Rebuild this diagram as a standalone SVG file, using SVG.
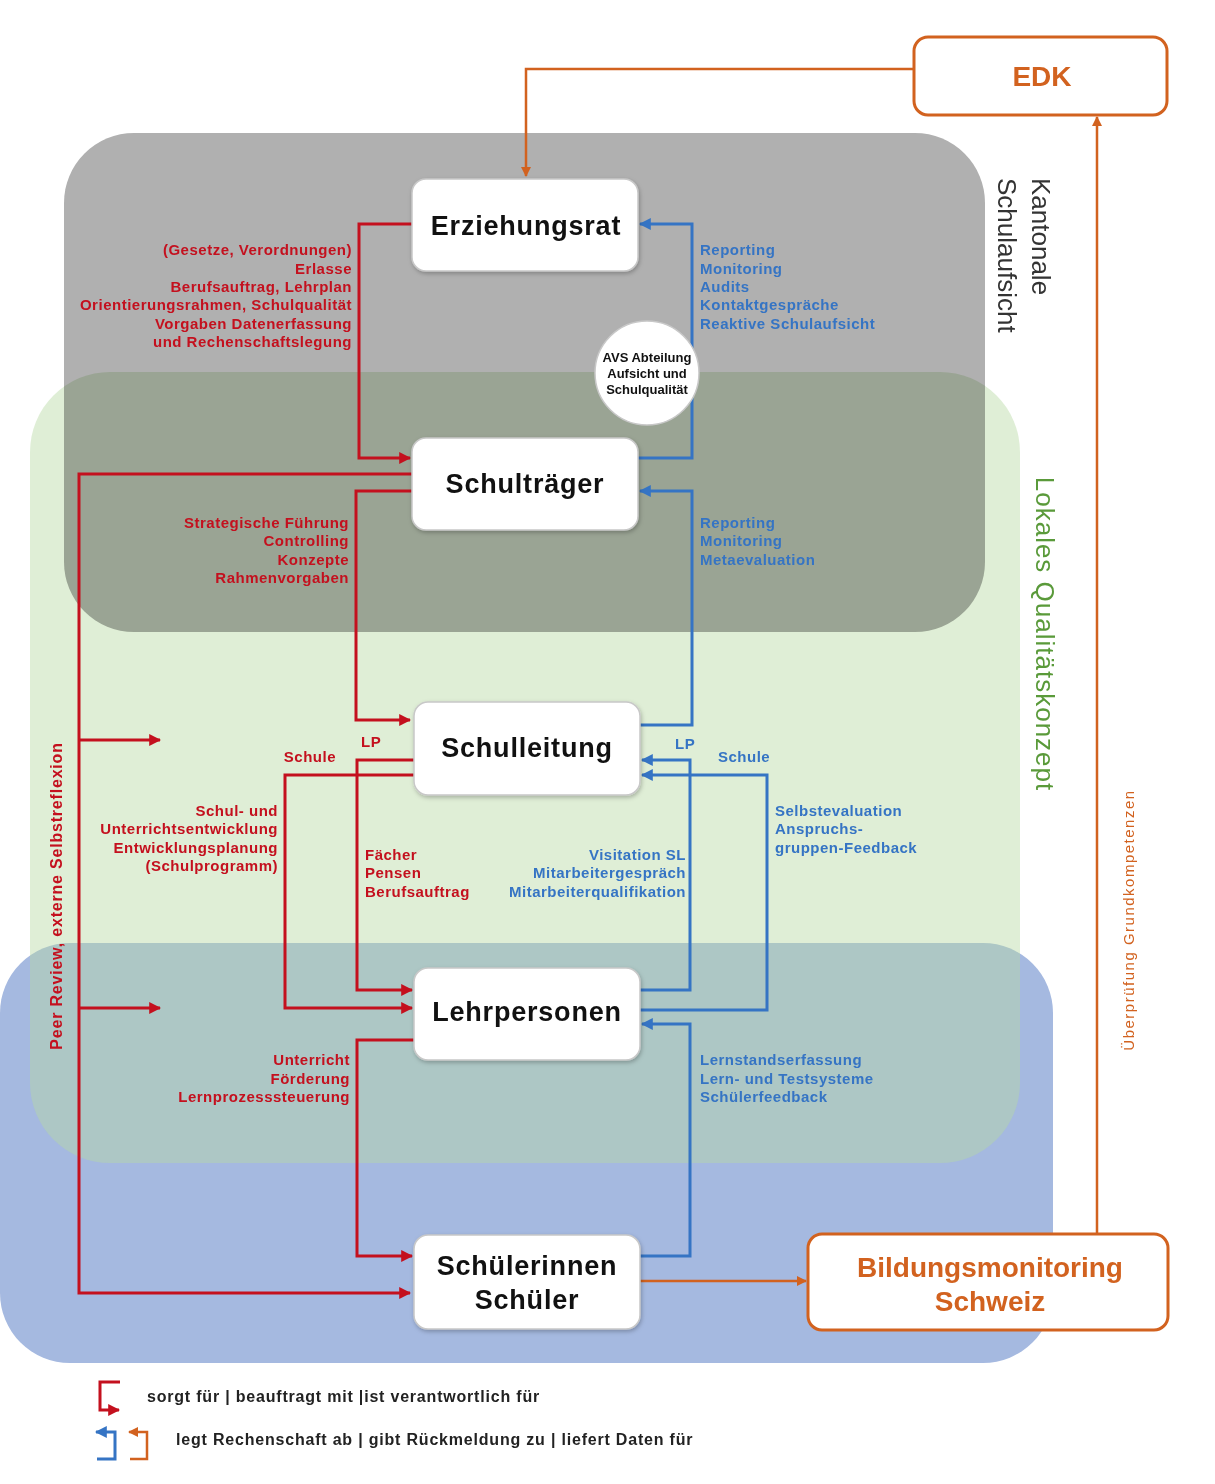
<svg xmlns="http://www.w3.org/2000/svg" width="1215" height="1484" viewBox="0 0 1215 1484">
<style>
.n{fill:#fff;stroke:#c8c8c8;stroke-width:1.5}
.nt{font-family:"Liberation Sans",Arial,sans-serif;font-weight:bold;font-size:27px;letter-spacing:0.8px;fill:#111;text-anchor:middle}
.o{fill:#fff;stroke:#d2621f;stroke-width:3}
.ot{font-family:"Liberation Sans",Arial,sans-serif;font-weight:bold;font-size:28px;fill:#d2621f;text-anchor:middle}
.r{fill:none;stroke:#c4101e;stroke-width:3}
.b{fill:none;stroke:#3574c4;stroke-width:3}
.or{fill:none;stroke:#d2621f;stroke-width:2.5}
.lr{font-family:"Liberation Sans",Arial,sans-serif;font-weight:bold;font-size:15px;letter-spacing:0.5px;fill:#c4101e}
.lb{font-family:"Liberation Sans",Arial,sans-serif;font-weight:bold;font-size:15px;letter-spacing:0.5px;fill:#3574c4}
.e{text-anchor:end}
.lg{font-family:"Liberation Sans",Arial,sans-serif;font-weight:bold;font-size:16px;letter-spacing:0.8px;fill:#222}
</style>
<defs>
<marker id="ar" viewBox="0 0 10 10" refX="9" refY="5" markerWidth="4" markerHeight="4" orient="auto"><path d="M0,0L10,5L0,10z" fill="#c4101e"/></marker>
<marker id="ab" viewBox="0 0 10 10" refX="9" refY="5" markerWidth="4" markerHeight="4" orient="auto"><path d="M0,0L10,5L0,10z" fill="#3574c4"/></marker>
<marker id="ao" viewBox="0 0 10 10" refX="9" refY="5" markerWidth="4" markerHeight="4" orient="auto"><path d="M0,0L10,5L0,10z" fill="#d2621f"/></marker>
<filter id="sh" x="-10%" y="-10%" width="130%" height="130%"><feDropShadow dx="1" dy="2" stdDeviation="2" flood-opacity="0.25"/></filter>
</defs>
<rect width="1215" height="1484" fill="#fff"/>
<g id="zones">
<rect x="0" y="943" width="1053" height="420" rx="70" fill="#a5b9e0"/>
<rect x="30" y="372" width="990" height="791" rx="80" fill="rgb(183,217,163)" fill-opacity="0.444"/>
<rect x="64" y="133" width="921" height="499" rx="70" fill="#b0b0b0" style="mix-blend-mode:multiply"/>
</g>
<g id="zone-labels" font-family="'Liberation Sans',Arial,sans-serif">
<text transform="translate(1032,178) rotate(90)" font-size="26" fill="#333">Kantonale</text>
<text transform="translate(998,178) rotate(90)" font-size="26" fill="#333">Schulaufsicht</text>
<text transform="translate(1036,634) rotate(90)" font-size="26" letter-spacing="1" fill="#5a9a3a" text-anchor="middle">Lokales Qualitätskonzept</text>
<text transform="translate(1134,920) rotate(-90)" font-size="15" letter-spacing="1.5" fill="#d2621f" text-anchor="middle">Überprüfung Grundkompetenzen</text>
<text transform="translate(62,896) rotate(-90)" font-family="'Liberation Sans',Arial,sans-serif" font-weight="bold" font-size="16" letter-spacing="0.8" fill="#c4101e" text-anchor="middle">Peer Review, externe Selbstreflexion</text>
</g>
<g id="connectors">
<path class="r" marker-end="url(#ar)" d="M412,224H359V458H410"/>
<path class="r" marker-end="url(#ar)" d="M412,491H356V720H410"/>
<path class="r" marker-end="url(#ar)" d="M414,760H357V990H412"/>
<path class="r" marker-end="url(#ar)" d="M414,775H285V1008H412"/>
<path class="r" marker-end="url(#ar)" d="M414,1040H357V1256H412"/>
<path class="r" marker-end="url(#ar)" d="M412,474H79V1293H410"/>
<path class="r" marker-end="url(#ar)" d="M79,740H160"/>
<path class="r" marker-end="url(#ar)" d="M79,1008H160"/>
<path class="b" marker-end="url(#ab)" d="M638,458H692V224H640"/>
<path class="b" marker-end="url(#ab)" d="M640,725H692V491H640"/>
<path class="b" marker-end="url(#ab)" d="M640,990H690V760H642"/>
<path class="b" marker-end="url(#ab)" d="M640,1010H767V775H642"/>
<path class="b" marker-end="url(#ab)" d="M640,1256H690V1024H642"/>
<path class="or" marker-end="url(#ao)" d="M914,69H526V176"/>
<path class="or" marker-end="url(#ao)" d="M1097,1234V117"/>
<path class="or" marker-end="url(#ao)" d="M640,1281H806"/>
</g>
<g id="erziehungsrat"><rect class="n" filter="url(#sh)" x="412" y="179" width="226" height="92" rx="14"/><text class="nt" x="526" y="235">Erziehungsrat</text></g>
<g id="schultraeger"><rect class="n" filter="url(#sh)" x="412" y="438" width="226" height="92" rx="14"/><text class="nt" x="525" y="493">Schulträger</text></g>
<g id="schulleitung"><rect class="n" filter="url(#sh)" x="414" y="702" width="226" height="93" rx="14"/><text class="nt" x="527" y="757">Schulleitung</text></g>
<g id="lehrpersonen"><rect class="n" filter="url(#sh)" x="414" y="968" width="226" height="92" rx="14"/><text class="nt" x="527" y="1021">Lehrpersonen</text></g>
<g id="schueler"><rect class="n" filter="url(#sh)" x="414" y="1235" width="226" height="94" rx="14"/><text class="nt" x="527" y="1275">Schülerinnen</text><text class="nt" x="527" y="1309">Schüler</text></g>
<g id="edk"><rect class="o" x="914" y="37" width="253" height="78" rx="14"/><text class="ot" x="1042" y="86">EDK</text></g>
<g id="bildungsmonitoring"><rect class="o" x="808" y="1234" width="360" height="96" rx="14"/><text class="ot" x="990" y="1277">Bildungsmonitoring</text><text class="ot" x="990" y="1311">Schweiz</text></g>
<g id="avs"><circle cx="647" cy="373" r="52" fill="#fff" stroke="#c8c8c8" stroke-width="1.5"/>
<g font-family="'Liberation Sans',Arial,sans-serif" font-weight="bold" font-size="13" fill="#111" text-anchor="middle"><text x="647" y="362">AVS Abteilung</text><text x="647" y="378">Aufsicht und</text><text x="647" y="394">Schulqualität</text></g></g>
<g id="labels">
<text class="lr e" x="352" y="255">(Gesetze, Verordnungen)</text>
<text class="lr e" x="352" y="274">Erlasse</text>
<text class="lr e" x="352" y="292">Berufsauftrag, Lehrplan</text>
<text class="lr e" x="352" y="310">Orientierungsrahmen, Schulqualität</text>
<text class="lr e" x="352" y="329">Vorgaben Datenerfassung</text>
<text class="lr e" x="352" y="347">und Rechenschaftslegung</text>
<text class="lb" x="700" y="255">Reporting</text>
<text class="lb" x="700" y="274">Monitoring</text>
<text class="lb" x="700" y="292">Audits</text>
<text class="lb" x="700" y="310">Kontaktgespräche</text>
<text class="lb" x="700" y="329">Reaktive Schulaufsicht</text>
<text class="lr e" x="349" y="528">Strategische Führung</text>
<text class="lr e" x="349" y="546">Controlling</text>
<text class="lr e" x="349" y="565">Konzepte</text>
<text class="lr e" x="349" y="583">Rahmenvorgaben</text>
<text class="lb" x="700" y="528">Reporting</text>
<text class="lb" x="700" y="546">Monitoring</text>
<text class="lb" x="700" y="565">Metaevaluation</text>
<text class="lr" x="361" y="747">LP</text>
<text class="lr e" x="336" y="762">Schule</text>
<text class="lb" x="675" y="749">LP</text>
<text class="lb" x="718" y="762">Schule</text>
<text class="lr e" x="278" y="816">Schul- und</text>
<text class="lr e" x="278" y="834">Unterrichtsentwicklung</text>
<text class="lr e" x="278" y="853">Entwicklungsplanung</text>
<text class="lr e" x="278" y="871">(Schulprogramm)</text>
<text class="lr" x="365" y="860">Fächer</text>
<text class="lr" x="365" y="878">Pensen</text>
<text class="lr" x="365" y="897">Berufsauftrag</text>
<text class="lb e" x="686" y="860">Visitation SL</text>
<text class="lb e" x="686" y="878">Mitarbeitergespräch</text>
<text class="lb e" x="686" y="897">Mitarbeiterqualifikation</text>
<text class="lb" x="775" y="816">Selbstevaluation</text>
<text class="lb" x="775" y="834">Anspruchs-</text>
<text class="lb" x="775" y="853">gruppen-Feedback</text>
<text class="lr e" x="350" y="1065">Unterricht</text>
<text class="lr e" x="350" y="1084">Förderung</text>
<text class="lr e" x="350" y="1102">Lernprozesssteuerung</text>
<text class="lb" x="700" y="1065">Lernstandserfassung</text>
<text class="lb" x="700" y="1084">Lern- und Testsysteme</text>
<text class="lb" x="700" y="1102">Schülerfeedback</text>
</g>
<g id="legend">
<path class="r" stroke-width="2.5" marker-end="url(#ar)" d="M120,1382H100V1410H119"/>
<path class="b" stroke-width="2.5" marker-end="url(#ab)" d="M97,1459H115V1432H96"/>
<path class="or" marker-end="url(#ao)" d="M130,1459H147V1432H129"/>
<text class="lg" x="147" y="1402">sorgt für | beauftragt mit |ist verantwortlich für</text>
<text class="lg" x="176" y="1445">legt Rechenschaft ab | gibt Rückmeldung zu | liefert Daten für</text>
</g>
</svg>
